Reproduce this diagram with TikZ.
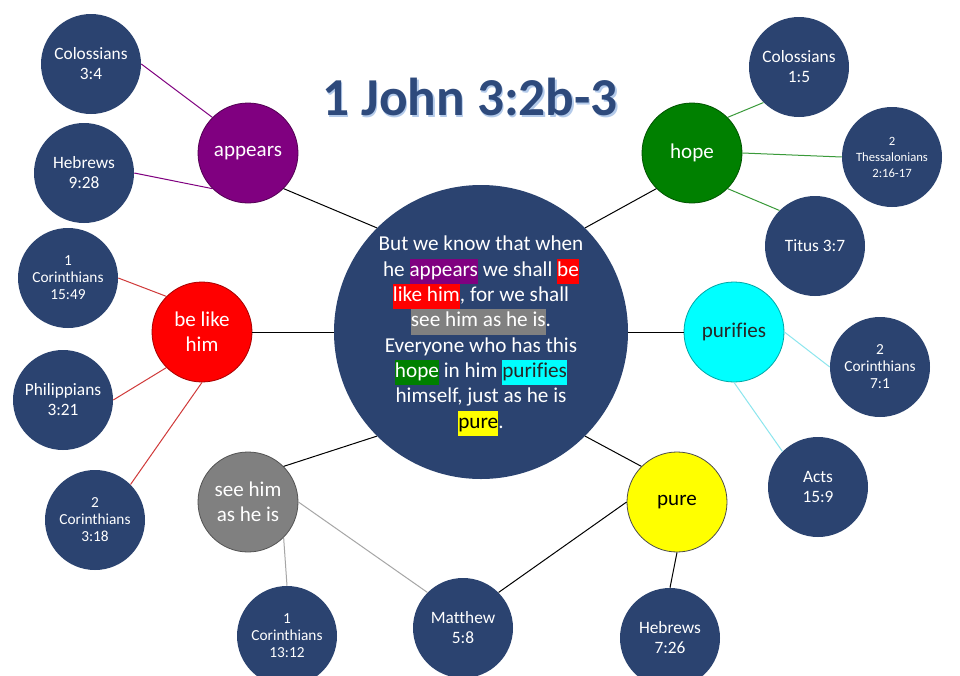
\documentclass[tikz,border=0pt]{standalone}
\usepackage{fontspec}
\setmainfont{Carlito}[Ligatures=NoCommon]
\usepackage{xcolor}
\usepackage{tikz}
\definecolor{versenavy}{HTML}{2B4370}
\definecolor{titleblue}{HTML}{2E4A7C}
\definecolor{titleglow}{HTML}{B3CAEA}
\definecolor{keypurple}{HTML}{800080}
\definecolor{keygreen}{HTML}{008000}
\definecolor{keyred}{HTML}{FF0000}
\definecolor{keycyan}{HTML}{00FFFF}
\definecolor{keygray}{HTML}{808080}
\definecolor{keyyellow}{HTML}{FFFF00}
\definecolor{linkgreen}{HTML}{3A9A3A}
\definecolor{linkred}{HTML}{D03A3A}
\definecolor{linkcyan}{HTML}{8CE6EE}
\definecolor{linkgray}{HTML}{A6A6A6}
\newcommand{\hlword}[3]{{\setlength{\fboxsep}{0pt}\colorbox{#1}{\strut\textcolor{#2}{#3}}}}
\tikzset{
  refnode/.style={circle,fill=versenavy,text=white,minimum size=75pt,inner sep=0pt,align=center,font=\fontsize{13}{15}\selectfont},
  refsmall/.style={refnode,font=\fontsize{11.5}{12.75}\selectfont},
  reftiny/.style={refnode,font=\fontsize{9.5}{12}\selectfont},
  keynode/.style={circle,draw=#1!65!black,fill=#1,text=white,minimum size=75pt,inner sep=0pt,line width=0.6pt,align=center,font=\fontsize{15.8}{18.75}\selectfont},
  link/.style={line width=0.75pt},
}

\begin{document}
\begin{tikzpicture}[x=0.75pt,y=-0.75pt]
  \fill[white] (0,0) rectangle (960,675);
  \useasboundingbox (0,0) rectangle (960,675);
  % title
  \node[text=titleglow,font=\fontsize{40}{48}\selectfont\bfseries] (titleglow) at (471.5,98.5) {1 John 3:2b-3};
  \node[text=titleblue,font=\fontsize{40}{48}\selectfont\bfseries] (title) at (470,97) {1 John 3:2b-3};
  % verse in the middle
  \node[circle,fill=versenavy,minimum size=220.5pt,inner sep=0pt] (hub) at (481,332) {};
  \node[text=white,align=center,font=\fontsize{15.9}{19}\selectfont] (verse) at (481,336) {But we know that when\\
    he \hlword{keypurple}{white}{appears} we shall \hlword{keyred}{white}{be}\\
    \hlword{keyred}{white}{like him}, for we shall\\
    \hlword{keygray}{white}{see him as he is}.\\
    Everyone who has this\\
    \hlword{keygreen}{white}{hope} in him \hlword{keycyan}{black!85}{purifies}\\
    himself, just as he is\\
    \hlword{keyyellow}{black}{pure}.};
  % key words
  \node[keynode=keypurple] (appears) at (248,153) {appears};
  \node[keynode=keygreen] (hope) at (692,153) {hope};
  \node[keynode=keyred] (belike) at (202,332) {be like\\him};
  \node[keynode=keycyan,text=black!85] (purifies) at (734,332) {purifies};
  \node[keynode=keygray] (seehim) at (248,502) {see him\\as he is};
  \node[keynode=keyyellow,draw=black!70,text=black] (pure) at (677,502) {pure};
  % references
  \node[refnode] (col34) at (91,64) {Colossians\\3:4};
  \node[refnode] (heb928) at (84,173) {Hebrews\\9:28};
  \node[refsmall] (cor1549) at (68,278) {1\\Corinthians\\15:49};
  \node[refnode] (phil321) at (63,400) {Philippians\\3:21};
  \node[refsmall] (cor318) at (95,520) {2\\Corinthians\\3:18};
  \node[refsmall] (cor1312) at (287,636) {1\\Corinthians\\13:12};
  \node[refnode] (matt58) at (463,628) {Matthew\\5:8};
  \node[refnode] (heb726) at (670,638) {Hebrews\\7:26};
  \node[refnode] (acts159) at (818,487) {Acts\\15:9};
  \node[refsmall] (cor71) at (880,367) {2\\Corinthians\\7:1};
  \node[refnode] (titus37) at (815,246) {Titus 3:7};
  \node[reftiny] (thess) at (892,157) {2\\Thessalonians\\2:16-17};
  \node[refnode] (col15) at (799,67) {Colossians\\1:5};
  % hub links
  \draw[link] (hub.north west) -- (appears.south east);
  \draw[link] (hub.north east) -- (hope.south west);
  \draw[link] (hub.west) -- (belike.east);
  \draw[link] (hub.east) -- (purifies.west);
  \draw[link] (hub.south west) -- (seehim.north east);
  \draw[link] (hub.south east) -- (pure.north west);
  % reference links
  \draw[link,keypurple] (appears.north west) -- (col34.east);
  \draw[link,keypurple] (appears.south west) -- (heb928.east);
  \draw[link,linkgreen] (hope.north east) -- (col15.south west);
  \draw[link,linkgreen] (hope.east) -- (thess.west);
  \draw[link,linkgreen] (hope.south east) -- (titus37.north west);
  \draw[link,linkred] (belike.north west) -- (cor1549.east);
  \draw[link,linkred] (belike.south west) -- (phil321.east);
  \draw[link,linkred] (belike.south) -- (cor318.north east);
  \draw[link,linkcyan] (purifies.east) -- (cor71.west);
  \draw[link,linkcyan] (purifies.south) -- (acts159.north west);
  \draw[link,linkgray] (seehim.east) -- (matt58.north west);
  \draw[link,linkgray] (seehim.south east) -- (cor1312.north);
  \draw[link] (pure.west) -- (matt58.north east);
  \draw[link] (pure.south) -- (heb726.north);
\end{tikzpicture}
\end{document}
